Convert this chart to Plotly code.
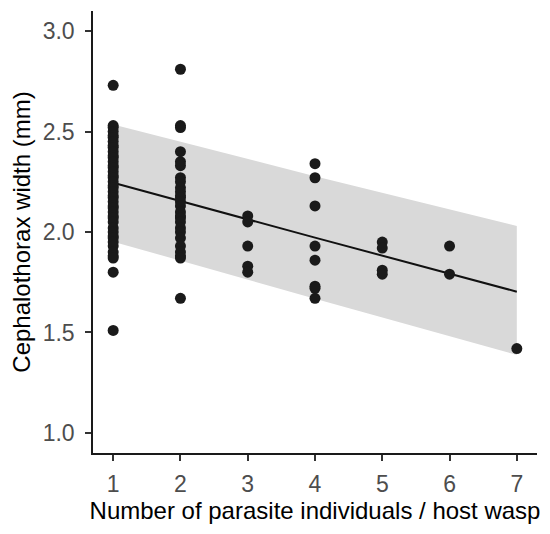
import plotly.graph_objects as go

# Data
x1_vals = [2.73, 2.53, 2.52, 2.50, 2.48, 2.47, 2.45, 2.43, 2.42, 2.40, 2.38, 2.37, 2.35, 2.33,
           2.32, 2.30, 2.28, 2.27, 2.25, 2.23, 2.22, 2.20, 2.18, 2.17, 2.15, 2.13, 2.12, 2.10,
           2.08, 2.07, 2.05, 2.02, 2.00, 1.98, 1.97, 1.95, 1.93, 1.90, 1.88, 1.87, 1.80, 1.51]
x2_vals = [2.81, 2.53, 2.52, 2.40, 2.35, 2.33, 2.27, 2.25, 2.22, 2.20, 2.18, 2.17, 2.15, 2.13,
           2.10, 2.08, 2.07, 2.05, 2.02, 2.00, 1.97, 1.93, 1.90, 1.88, 1.87, 1.67]
x3_vals = [2.08, 2.05, 1.93, 1.83, 1.80]
x4_vals = [2.34, 2.27, 2.13, 1.93, 1.86, 1.73, 1.72, 1.67]
x5_vals = [1.95, 1.92, 1.81, 1.79]
x6_vals = [1.93, 1.79]
x7_vals = [1.42]

fit_x = [1, 4, 7]
fit_y = [2.245, 1.972, 1.703]
fit_upper = [2.535, 2.278, 2.030]
fit_lower = [1.952, 1.668, 1.388]

groups = [1, 2, 3, 4, 5, 6, 7]
group_vals = [x1_vals, x2_vals, x3_vals, x4_vals, x5_vals, x6_vals, x7_vals]

px, py = [], []
for g, vals in zip(groups, group_vals):
    for v in vals:
        px.append(g)
        py.append(v)

fig = go.Figure()
# prediction band
fig.add_trace(go.Scatter(
    x=fit_x + fit_x[::-1], y=fit_upper + fit_lower[::-1],
    fill="toself", fillcolor="#d9d9d9", line=dict(width=0),
    mode="lines", hoverinfo="skip", showlegend=False))
# fitted line
fig.add_trace(go.Scatter(
    x=fit_x, y=fit_y, mode="lines", line=dict(color="#111111", width=2),
    showlegend=False))
# points
fig.add_trace(go.Scatter(
    x=px, y=py, mode="markers",
    marker=dict(color="#1a1a1a", size=11, line=dict(width=0)),
    showlegend=False))

axis_common = dict(
    showline=True, linecolor="#1a1a1a", linewidth=1.5,
    ticks="outside", ticklen=6, tickwidth=1.5, tickcolor="#333333",
    showgrid=False, zeroline=False, automargin=False,
    tickfont=dict(family="Liberation Sans, Arial, sans-serif", size=23, color="#4D4D4D"),
)

# the page body adds an 8px offset, so the figure is sized to fit inside the window
fig.update_layout(
    width=542, height=526,
    margin=dict(l=85, r=13, t=3, b=81),
    paper_bgcolor="white", plot_bgcolor="white",
    font=dict(family="Liberation Sans, Arial, sans-serif"),
    xaxis=dict(range=[0.7, 7.3], tickvals=groups, ticktext=[str(g) for g in groups],
               title=dict(text="Number of parasite individuals / host wasp",
                          font=dict(size=24, color="black"), standoff=2),
               ticklabelstandoff=4,
               **axis_common),
    yaxis=dict(range=[0.9, 3.1], tickvals=[1.0, 1.5, 2.0, 2.5, 3.0],
               ticktext=["1.0", "1.5", "2.0", "2.5", "3.0"],
               title=dict(text="Cephalothorax width (mm)",
                          font=dict(size=24, color="black"), standoff=8),
               ticklabelstandoff=6,
               **axis_common),
)

fig.write_html("out.html")
